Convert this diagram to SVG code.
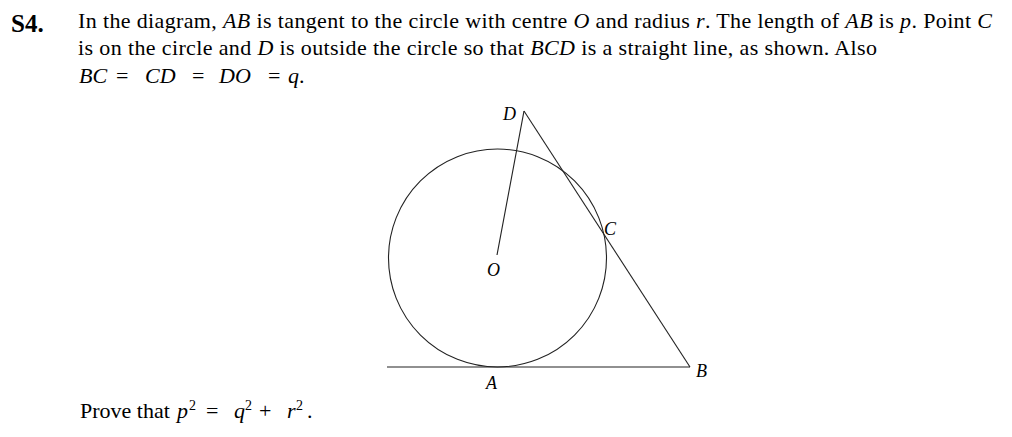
<svg xmlns="http://www.w3.org/2000/svg" width="1012" height="437" viewBox="0 0 1012 437">
<style>
text { font-family: "Liberation Serif", "Times New Roman", serif; fill: #000; }
.body { font-size: 22px; }
.i { font-style: italic; }
.bold { font-weight: bold; font-size: 25px; }
.lbl { font-size: 18px; font-style: italic; }
.sup { font-size: 14px; }
.ln { stroke: #222; stroke-width: 1.1; fill: none; }
</style>
<rect width="1012" height="437" fill="#fff"/>
<g id="text">
<text class="bold" x="11" y="32">S4.</text>
<text class="body" x="78" y="28" textLength="914">In the diagram, <tspan class="i">AB</tspan> is tangent to the circle with centre <tspan class="i">O</tspan> and radius <tspan class="i">r</tspan>. The length of <tspan class="i">AB</tspan> is <tspan class="i">p</tspan>. Point <tspan class="i">C</tspan></text>
<text class="body" x="78" y="55" textLength="799">is on the circle and <tspan class="i">D</tspan> is outside the circle so that <tspan class="i">BCD</tspan> is a straight line, as shown.  Also</text>
<text class="body" y="83"><tspan class="i" x="79">BC</tspan><tspan x="116">=</tspan><tspan class="i" x="145">CD</tspan><tspan x="192">=</tspan><tspan class="i" x="219">DO</tspan><tspan x="268">=</tspan><tspan class="i" x="288">q</tspan><tspan>.</tspan></text>
<text class="body" y="418"><tspan x="80">Prove that </tspan><tspan class="i" x="177">p</tspan><tspan class="sup" x="189" dy="-8">2</tspan><tspan x="206" dy="8">=</tspan><tspan class="i" x="234">q</tspan><tspan class="sup" x="245" dy="-8">2</tspan><tspan x="259" dy="8">+</tspan><tspan class="i" x="287">r</tspan><tspan class="sup" x="296" dy="-8">2</tspan><tspan x="307" dy="8">.</tspan></text>
</g>
<g id="circle">
<circle class="ln" cx="497.5" cy="258" r="109"/>
</g>
<g id="connectors">
<line class="ln" x1="387" y1="367" x2="690" y2="367"/>
<line class="ln" x1="690" y1="367" x2="524" y2="111"/>
<line class="ln" x1="497" y1="255" x2="524" y2="111"/>
</g>
<g id="labels">
<text class="lbl" x="503" y="120">D</text>
<text class="lbl" x="604" y="235">C</text>
<text class="lbl" x="487" y="276">O</text>
<text class="lbl" x="486" y="389">A</text>
<text class="lbl" x="696" y="377">B</text>
</g>
</svg>
